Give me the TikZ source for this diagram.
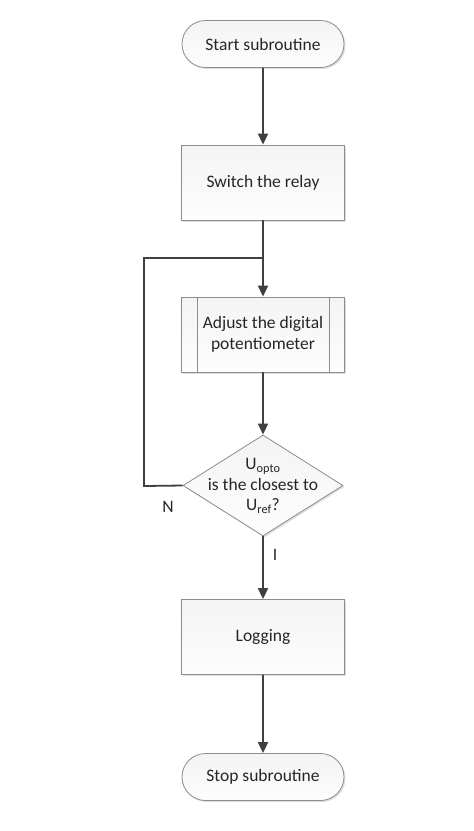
\documentclass[tikz,border=0pt]{standalone}
\usepackage{fontspec}
\setmainfont{Carlito}
\usetikzlibrary{shapes.geometric,shapes.misc,arrows.meta,shadows}
\definecolor{linec}{HTML}{404040}
\definecolor{borderc}{HTML}{8C8C8C}
\definecolor{fillc}{HTML}{EFEFEF}
\tikzset{
  base/.style={draw=borderc, line width=0.8pt, top color=fillc!70!white, bottom color=fillc!90!black!5,
    text=black!85, font=\fontsize{17.5}{20.5}\selectfont, align=center,
    drop shadow={shadow xshift=1.5pt, shadow yshift=-1.5pt, opacity=0.25}},
  term/.style={base, rounded rectangle, minimum width=162pt, minimum height=47pt, inner sep=0pt},
  proc/.style={base, rectangle, minimum width=163pt, minimum height=75pt, inner sep=0pt},
  decis/.style={base, diamond, minimum width=160pt, minimum height=101pt, inner sep=0pt, aspect=1.6},
  conn/.style={draw=linec, line width=1.8pt, -{Triangle[length=11pt,width=10pt]}},
  plain/.style={draw=linec, line width=1.8pt},
  lbl/.style={text=black!85, font=\fontsize{17.5}{20.5}\selectfont}
}
\begin{document}
\begin{tikzpicture}[x=1pt,y=-1pt]
\useasboundingbox[fill=white] (0,0) rectangle (474,831);
\node[term] (start) at (263,44) {Start subroutine};
\node[proc] (relay) at (263,182.5) {Switch the relay};
\node[proc] (pot) at (263,334.5) {Adjust the digital\\potentiometer};
\draw[borderc, line width=0.8pt] ([xshift=16pt]pot.north west) -- ([xshift=16pt]pot.south west)
  ([xshift=-16pt]pot.north east) -- ([xshift=-16pt]pot.south east);
\node[decis] (dec) at (263,485.5) {};
\node[lbl, align=center] (dectext) at (263,486) {U\textsubscript{opto}\\is the closest to\\U\textsubscript{ref}?};
\node[proc] (log) at (263,637) {Logging};
\node[term] (stop) at (263,777) {Stop subroutine};
\coordinate (join) at (263,258);
\coordinate (lc1) at (144,486);
\coordinate (lc2) at (144,258);
\draw[conn] (start) -- (relay);
\draw[conn] (relay) -- (pot);
\draw[conn] (pot) -- (dec);
\draw[conn] (dec) -- (log);
\draw[conn] (log) -- (stop);
\draw[plain] (dec.west) -- (lc1) -- (lc2) -- (join);
\node[lbl] (nlab) at (168,507) {N};
\node[lbl] (ilab) at (275,555) {I};
\end{tikzpicture}
\end{document}
